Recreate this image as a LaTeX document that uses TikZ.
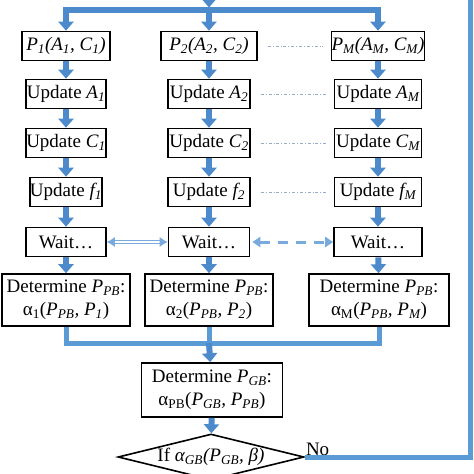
\documentclass[tikz,border=0pt]{standalone}
\usepackage{fontspec}
\setmainfont{Liberation Serif}
\usetikzlibrary{arrows.meta, shapes.geometric, calc}
\definecolor{flowblue}{RGB}{76,138,204}
\definecolor{busblue}{RGB}{91,155,213}
\definecolor{linkgrey}{RGB}{150,172,196}
\definecolor{waitblue}{RGB}{120,170,222}
\newcommand{\sbs}[1]{\textsubscript{#1}}

\begin{document}
\begin{tikzpicture}[x=1pt, y=-1pt,
    box/.style={draw, line width=1.6pt, minimum height=29pt, inner sep=0pt,
        font=\fontsize{19}{23}\selectfont, align=center},
    flow/.style={draw=flowblue, line width=6pt, -{Triangle[width=15pt,length=9pt]}},
    bus/.style={draw=busblue, line width=5pt},
    link/.style={draw=linkgrey, line width=0.8pt, dash dot, shorten <=10pt, shorten >=8pt},
    waitdouble/.style={draw=waitblue, line width=1pt, double=white, double distance=2pt,
        {Latex[length=8pt,width=10pt]}-{Latex[length=8pt,width=10pt]}},
    waitdash/.style={draw=waitblue, line width=3pt, dash pattern=on 10pt off 8pt,
        {Triangle[width=10pt,length=8pt]}-{Triangle[width=10pt,length=8pt]}, shorten <=2pt}
    ]
    \useasboundingbox (0,0) rectangle (474,474);

    % first row: particles
    \node[box, minimum width=88pt] (p1) at (66,46) {\textit{P\sbs{1}(A\sbs{1}, C\sbs{1})}};
    \node[box, minimum width=96pt] (p2) at (209,46) {\textit{P\sbs{2}(A\sbs{2}, C\sbs{2})}};
    \node[box, minimum width=87pt] (pM) at (378,46) {\textit{P\sbs{M}(A\sbs{M}, C\sbs{M})}};

    \node[box, minimum width=80pt] (ua1) at (66,94) {Update \textit{A\sbs{1}}};
    \node[box, minimum width=82pt] (ua2) at (209,94) {Update \textit{A\sbs{2}}};
    \node[box, minimum width=87pt] (uaM) at (378,94) {Update \textit{A\sbs{M}}};

    \node[box, minimum width=80pt] (uc1) at (66,143) {Update \textit{C\sbs{1}}};
    \node[box, minimum width=82pt] (uc2) at (209,143) {Update \textit{C\sbs{2}}};
    \node[box, minimum width=87pt] (ucM) at (378,143) {Update \textit{C\sbs{M}}};

    \node[box, minimum width=70pt] (uf1) at (66,192) {Update \textit{f\sbs{1}}};
    \node[box, minimum width=82pt] (uf2) at (209,192) {Update \textit{f\sbs{2}}};
    \node[box, minimum width=87pt] (ufM) at (378,192) {Update \textit{f\sbs{M}}};

    \node[box, minimum width=80pt] (w1) at (66,242) {Wait…};
    \node[box, minimum width=81pt] (w2) at (209,242) {Wait…};
    \node[box, minimum width=88pt] (wM) at (378,242) {Wait…};

    \node[box, minimum width=128pt, minimum height=52pt] (d1) at (66,300)
        {Determine \textit{P\sbs{PB}}:\\α\sbs{1}(\textit{P\sbs{PB}, P\sbs{1}})};
    \node[box, minimum width=128pt, minimum height=52pt] (d2) at (209,300)
        {Determine \textit{P\sbs{PB}}:\\α\sbs{2}(\textit{P\sbs{PB}, P\sbs{2}})};
    \node[box, minimum width=140pt, minimum height=52pt] (dM) at (379,300)
        {Determine \textit{P\sbs{PB}}:\\α\sbs{M}(\textit{P\sbs{PB}, P\sbs{M}})};

    % global best and test
    \node[box, minimum width=141pt, minimum height=54pt] (pgb) at (212,390)
        {Determine \textit{P\sbs{GB}}:\\α\sbs{PB}(\textit{P\sbs{GB}, P\sbs{PB}})};
    \node[box, diamond, aspect=4, minimum width=186pt, minimum height=46pt] (cond) at (211,457)
        {If \textit{α\sbs{GB}(P\sbs{GB}, β)}};
    \node[anchor=south west, inner sep=1pt, font=\fontsize{19}{23}\selectfont] (no) at (cond.east) {No};

    % distribution from the top
    \coordinate (entry) at (209,-12);
    \coordinate (split) at (209,10);
    \draw[flow, shorten >=2.5pt] (entry) -- (split);
    \draw[flow] (split) -| (p1);
    \draw[flow] (split) -- (p2);
    \draw[flow] (split) -| (pM);

    \foreach \c in {1,2,M} {
        \foreach \a/\b in {p/ua, ua/uc, uc/uf, uf/w, w/d}
            \draw[flow] (\a\c) -- (\b\c);
    }

    \foreach \r in {p,ua,uc,uf}
        \draw[link] (\r 2) -- (\r M);

    \draw[waitdouble] (w1) -- (w2);
    \draw[waitdash] (w2) -- (wM);

    % merge of the particle bests
    \coordinate (merge) at (209,343);
    \draw[bus] (d1) |- (merge) -| (dM);
    \draw[bus] (d2) -- (merge);
    \draw[flow] (merge) -- (pgb);
    \draw[flow] (pgb) -- (cond);

    % loop back
    \coordinate (back) at (470,-10);
    \draw[bus] (cond.east) -| (back);
\end{tikzpicture}
\end{document}
